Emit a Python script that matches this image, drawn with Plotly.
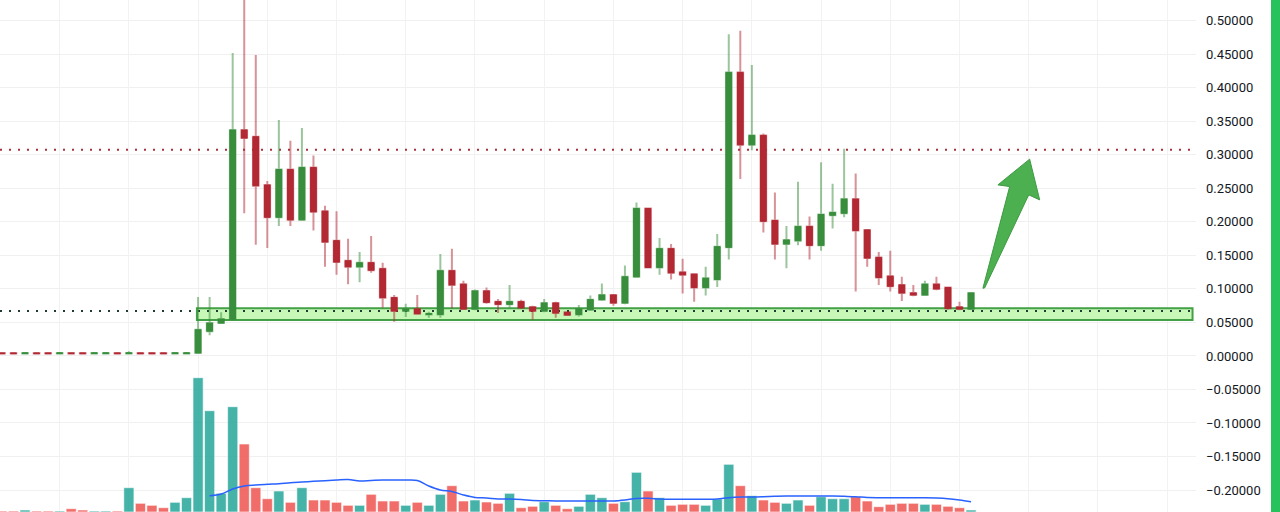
import numpy as np
import plotly.graph_objects as go

# daily candles, index = bar number
opens = [0.0045, 0.0045, 0.0035, 0.0045, 0.0045, 0.0035, 0.0045, 0.0045, 0.0035, 0.0035,
         0.0045, 0.0035, 0.0045, 0.0045, 0.0045, 0.0035, 0.0035,
         0.0045, 0.037, 0.049, 0.055, 0.337, 0.327, 0.255, 0.207, 0.278,
         0.203, 0.281, 0.216, 0.172, 0.142, 0.133, 0.139, 0.130, 0.087, 0.067,
         0.070, 0.062, 0.062, 0.127, 0.107, 0.070, 0.097, 0.081, 0.077, 0.081,
         0.073, 0.067, 0.079, 0.065, 0.062, 0.069, 0.084, 0.091, 0.079, 0.118,
         0.220, 0.132, 0.160, 0.125, 0.122, 0.102, 0.114, 0.162, 0.423, 0.315,
         0.329, 0.202, 0.167, 0.172, 0.193, 0.165, 0.210, 0.213, 0.234, 0.188,
         0.147, 0.119, 0.106, 0.094, 0.091, 0.107, 0.102, 0.073, 0.070]
highs = [0.0045, 0.0045, 0.0045, 0.0045, 0.0045, 0.0045, 0.0045, 0.0045, 0.0045, 0.0045,
         0.0045, 0.0070, 0.0045, 0.0045, 0.0045, 0.0050, 0.0055,
         0.088, 0.088, 0.065, 0.452, 0.545, 0.449, 0.261, 0.352, 0.321,
         0.340, 0.299, 0.224, 0.216, 0.175, 0.155, 0.179, 0.139, 0.091, 0.078,
         0.091, 0.066, 0.152, 0.160, 0.112, 0.099, 0.102, 0.085, 0.106, 0.084,
         0.075, 0.085, 0.081, 0.066, 0.076, 0.090, 0.108, 0.092, 0.135, 0.229,
         0.221, 0.176, 0.167, 0.145, 0.123, 0.133, 0.182, 0.480, 0.485, 0.434,
         0.332, 0.244, 0.194, 0.260, 0.208, 0.289, 0.257, 0.309, 0.272, 0.189,
         0.155, 0.157, 0.118, 0.106, 0.112, 0.118, 0.103, 0.081, 0.095]
lows = [0.0035, 0.0035, 0.0035, 0.0035, 0.0035, 0.0035, 0.0035, 0.0035, 0.0035, 0.0035,
        0.0035, 0.0035, 0.0035, 0.0035, 0.0035, 0.0035, 0.0035,
        0.003, 0.031, 0.048, 0.053, 0.213, 0.166, 0.161, 0.194, 0.194,
        0.203, 0.187, 0.133, 0.121, 0.107, 0.110, 0.124, 0.072, 0.051, 0.058,
        0.062, 0.057, 0.057, 0.071, 0.069, 0.068, 0.078, 0.064, 0.072, 0.070,
        0.054, 0.065, 0.057, 0.060, 0.059, 0.067, 0.082, 0.075, 0.077, 0.117,
        0.131, 0.121, 0.114, 0.093, 0.081, 0.090, 0.103, 0.144, 0.264, 0.307,
        0.184, 0.144, 0.131, 0.165, 0.144, 0.157, 0.190, 0.207, 0.096, 0.133,
        0.106, 0.096, 0.082, 0.089, 0.090, 0.098, 0.069, 0.068, 0.069]
closes = [0.0035, 0.0035, 0.0045, 0.0035, 0.0035, 0.0045, 0.0035, 0.0035, 0.0045, 0.0045,
          0.0035, 0.0045, 0.0035, 0.0035, 0.0035, 0.0045, 0.0045,
          0.039, 0.049, 0.055, 0.337, 0.325, 0.254, 0.207, 0.278, 0.203,
          0.281, 0.215, 0.170, 0.140, 0.133, 0.139, 0.128, 0.087, 0.067, 0.070,
          0.063, 0.063, 0.127, 0.106, 0.070, 0.097, 0.080, 0.077, 0.081, 0.072,
          0.067, 0.079, 0.064, 0.061, 0.070, 0.084, 0.091, 0.079, 0.118, 0.220,
          0.132, 0.160, 0.124, 0.121, 0.102, 0.116, 0.163, 0.423, 0.315, 0.329,
          0.201, 0.167, 0.173, 0.193, 0.165, 0.211, 0.214, 0.234, 0.187, 0.146,
          0.117, 0.104, 0.094, 0.091, 0.107, 0.100, 0.071, 0.070, 0.094]

volume = [1, 1, 2, 1, 1, 1, 3.3, 2, 1, 1, 1, 24.3, 8.7, 6.7, 4.3, 9.7, 14.3,
          134.3, 101.3, 18.7, 105.3, 68, 24.3, 13.3, 21, 9.7, 24.3, 12, 12, 9.7,
          6.7, 6.7, 17.7, 11, 11, 6.7, 9.7, 6.7, 17.7, 26.3, 11, 12, 10, 8.7,
          18.7, 4.3, 5.7, 10.3, 6.7, 3.3, 5.7, 17.7, 14.3, 8.7, 10.3, 39.7, 21,
          14.3, 6.7, 7.7, 7.7, 6.7, 13, 47.7, 26.3, 16.3, 12, 9.7, 8.7, 12, 6.7,
          15.3, 13.3, 13.3, 15.3, 11, 5.3, 7.7, 8.7, 8.7, 7.7, 7.7, 5.7, 4.3, 2]

# volume moving average, starts at bar 18
vol_ma = [16.3, 18, 23, 26, 27, 27.7, 28.3, 29.3, 30, 30.7, 31.3, 32, 32.5, 31,
          31.5, 32, 32, 32, 31.5, 26, 22, 20.5, 17, 14.5, 14, 13, 13, 12.5, 11.5,
          11.3, 11, 11, 11, 11, 11, 11, 12, 13.5, 13.7, 13, 12.7, 12.7, 12.7, 12.7,
          13, 14.3, 15, 15, 15.3, 15.7, 16, 16, 16, 16, 16, 15.7, 15.3, 14.5, 14.3,
          14.3, 14.3, 14.3, 14.3, 14, 13.3, 12, 10.3]

resistance = 0.3075
support = 0.0672
zone_low, zone_high = 0.0537, 0.0712

bars = np.arange(len(opens))
o = np.array(opens)
c = np.array(closes)
up = c >= o

GREEN = "#388e3c"
RED = "#b22833"

fig = go.Figure()

# wicks (lighter)
fig.add_trace(go.Candlestick(
    x=bars, open=opens, high=highs, low=lows, close=closes,
    increasing=dict(line=dict(color="rgba(56,142,60,0.5)", width=2), fillcolor=GREEN),
    decreasing=dict(line=dict(color="rgba(178,40,51,0.5)", width=2), fillcolor=RED),
    showlegend=False, hoverinfo="skip"))
# bodies
fig.add_trace(go.Candlestick(
    x=bars, open=opens, high=np.maximum(o, c), low=np.minimum(o, c), close=closes,
    increasing=dict(line=dict(color=GREEN, width=1), fillcolor=GREEN),
    decreasing=dict(line=dict(color=RED, width=1), fillcolor=RED),
    showlegend=False))

vol_colors = np.where(up, "rgba(38,166,154,0.85)", "rgba(239,83,80,0.85)")
fig.add_trace(go.Bar(x=bars, y=volume, yaxis="y2", marker_color=vol_colors,
                     marker_line=dict(color="rgba(255,255,255,0.6)", width=1),
                     showlegend=False))
fig.add_trace(go.Scatter(x=bars[18:], y=vol_ma, yaxis="y2", mode="lines",
                         line=dict(color="#2962ff", width=1.5, shape="spline"),
                         showlegend=False))

x_left, x_right = -0.17, 103.5
fig.add_shape(type="rect", xref="x", yref="y", x0=16.9, x1=103.2, y0=zone_low, y1=zone_high,
              fillcolor="#c8f8b8", line=dict(color="#43a047", width=2), layer="between")
fig.add_shape(type="line", xref="x", yref="y", x0=x_left, x1=103.2, y0=resistance, y1=resistance,
              line=dict(color="#a8323c", width=2, dash="2px,7px"), layer="between")
fig.add_shape(type="line", xref="x", yref="y", x0=x_left, x1=103.2, y0=support, y1=support,
              line=dict(color="#1f3b36", width=2, dash="2px,7px"), layer="between")

# green arrow
arrow = [(85.03, 0.101), (87.35, 0.2527), (86.33, 0.2552), (89.08, 0.2936),
         (89.95, 0.2328), (89.0, 0.2403), (85.18, 0.1015)]
path = "M " + " L ".join(f"{px},{py}" for px, py in arrow) + " Z"
fig.add_shape(type="path", xref="x", yref="y", path=path,
              fillcolor="#4caf50", line=dict(color="#3e9a42", width=1), layer="above")

# green edge bar on the far right
fig.add_shape(type="rect", xref="paper", yref="paper", x0=1.0627, x1=1.075, y0=0, y1=1,
              fillcolor="#26c35c", line=dict(width=0))

fig.update_layout(
    width=1280, height=512,
    margin=dict(l=0, r=84, t=0, b=0, autoexpand=False),
    plot_bgcolor="white", paper_bgcolor="white",
    bargap=0.12,
    xaxis=dict(range=[x_left, x_right], rangeslider=dict(visible=False),
               showticklabels=False, showgrid=True, gridcolor="#f2f2f2",
               tick0=5, dtick=6, zeroline=False, showline=False),
    yaxis=dict(side="right", range=[-0.2328, 0.531], dtick=0.05, tickformat=".5f",
               showgrid=True, gridcolor="#f0f0f0", zeroline=False,
               tickfont=dict(family="Roboto", size=13, color="#131722"),
               ticklabelstandoff=9),
    yaxis2=dict(overlaying="y", range=[0, 512], visible=False, showgrid=False),
    font=dict(family="Roboto"),
)

fig.write_html("out.html", config={"displayModeBar": False},
               post_script="document.body.style.margin='0';")
